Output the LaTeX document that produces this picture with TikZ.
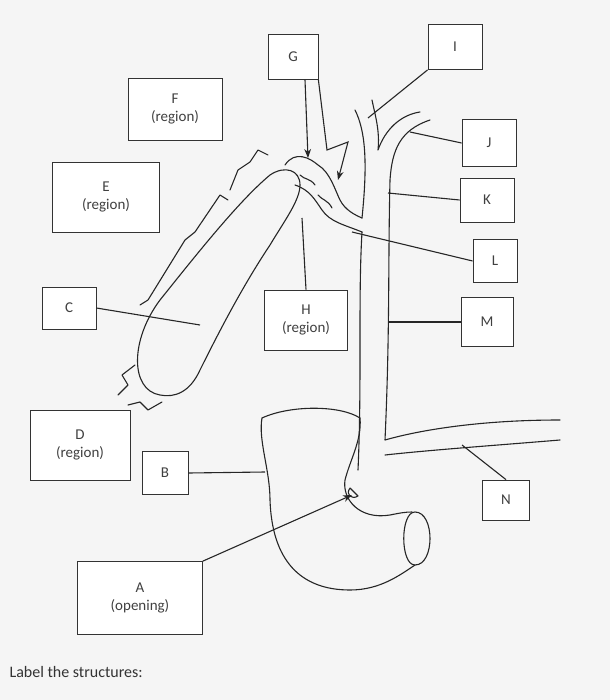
\documentclass[tikz,border=0pt]{standalone}
\usepackage{fontspec}
\setmainfont{Carlito}
\usetikzlibrary{arrows.meta}
\begin{document}
\begin{tikzpicture}[x=1pt,y=-1pt,
  lbl/.style={draw=black!80,line width=0.8pt,fill=white,inner sep=0pt,font=\fontsize{15}{18}\selectfont,align=center,text=black!75},
  ink/.style={line width=1.1pt,black!85,line cap=round,line join=round},
  ptr/.style={line width=1.1pt,black!85}]
\fill[black!4] (0,0) rectangle (610,700);
\useasboundingbox (0,0) rectangle (610,700);
% gallbladder
\draw[ink] (160,395) .. controls (130,390) and (130,340) .. (160,300)
  .. controls (200,250) and (240,200) .. (270,175)
  .. controls (285,165) and (300,170) .. (300,185)
  .. controls (300,200) and (285,220) .. (270,245)
  .. controls (240,290) and (215,340) .. (200,370)
  .. controls (190,392) and (175,398) .. (160,395) -- cycle;
% cystic duct
\draw[ink] (285,165) .. controls (295,150) and (310,158) .. (318,165) .. controls (330,172) and (335,190) .. (340,200)
  .. controls (345,210) and (355,215) .. (362,218);
\draw[ink] (295,185) .. controls (310,190) and (315,200) .. (322,210) .. controls (330,222) and (345,225) .. (362,232);
\draw[ink] (300,175) .. controls (305,180) and (310,178) .. (315,185) (318,195) .. controls (322,200) and (328,200) .. (332,208);
% ducts
\draw[ink] (355,110) .. controls (365,130) and (368,160) .. (362,218);
\draw[ink] (362,232) .. controls (358,300) and (362,380) .. (358,470);
\draw[ink] (430,120) .. controls (400,130) and (392,150) .. (390,180) .. controls (388,260) and (390,330) .. (385,440)
  .. controls (420,430) and (480,420) .. (560,420);
\draw[ink] (372,100) .. controls (375,115) and (380,130) .. (378,150) .. controls (385,130) and (400,115) .. (420,112);
\draw[ink] (385,455) .. controls (430,450) and (500,445) .. (560,440);
% duodenum
\draw[ink] (262,418) .. controls (290,405) and (340,405) .. (360,418);
\draw[ink] (262,418) .. controls (258,440) and (270,470) .. (270,500) .. controls (272,560) and (300,590) .. (350,590)
  .. controls (380,590) and (400,575) .. (415,565);
\draw[ink] (360,418) .. controls (362,440) and (350,460) .. (345,480) .. controls (342,500) and (360,520) .. (390,515) .. controls (400,513) and (405,512) .. (412,512);
\draw[ink] (415,512) .. controls (435,512) and (435,565) .. (415,565) .. controls (400,565) and (400,512) .. (415,512);
\draw[ink] (350,488) .. controls (345,495) and (352,500) .. (358,496) -- (350,488);
% region brackets
\draw[ink] (140,305) -- (148,300) -- (185,240) -- (195,232) -- (220,195) -- (228,200);
\draw[ink] (230,190) -- (238,170) -- (250,162) -- (258,150) -- (268,155);
\draw[ink] (118,395) -- (128,385) -- (122,375) -- (135,365) (128,405) -- (140,402) -- (148,410) -- (162,402);
% labels
\node[lbl,minimum width=50,minimum height=45] (G) at (293,57) {G};
\node[lbl,minimum width=54,minimum height=45] (I) at (455,47) {I};
\node[lbl,minimum width=94,minimum height=62] (F) at (175,109) {F\\(region)};
\node[lbl,minimum width=107,minimum height=70] (E) at (106,197) {E\\(region)};
\node[lbl,minimum width=54,minimum height=47] (J) at (489,143) {J};
\node[lbl,minimum width=54,minimum height=44] (K) at (487,200) {K};
\node[lbl,minimum width=44,minimum height=43] (L) at (495,261) {L};
\node[lbl,minimum width=54,minimum height=42] (C) at (69,308) {C};
\node[lbl,minimum width=83,minimum height=60] (H) at (306,320) {H\\(region)};
\node[lbl,minimum width=52,minimum height=49] (M) at (487,322) {M};
\node[lbl,minimum width=100,minimum height=70] (D) at (80,445) {D\\(region)};
\node[lbl,minimum width=46,minimum height=43] (B) at (165,473) {B};
\node[lbl,minimum width=47,minimum height=40] (N) at (506,500) {N};
\node[lbl,minimum width=125,minimum height=73] (A) at (140,598) {A\\(opening)};
\node[anchor=west,font=\fontsize{16}{18}\selectfont,text=black!80] (T) at (6,672) {Label the structures:};
% pointers
\coordinate (g1) at (308,158); \coordinate (g2) at (338,180);
\draw[ptr,-{Stealth[length=9pt]}] (G.south) ++(12,0) -- (g1);
\draw[ptr,-{Stealth[length=9pt]}] (G.south east) -- (327,150) -- (348,142) -- (g2);
\draw[ptr] (I.south west) -- (368,118);
\draw[ptr] (J.west) -- (410,132);
\draw[ptr] (K.west) -- (388,193);
\draw[ptr] (L.west) -- (352,232);
\draw[ptr] (C.east) -- (200,325);
\draw[ptr] (H.north) -- (302,218);
\draw[ptr] (M.west) -- (388,322);
\draw[ptr] (B.east) -- (265,472);
\draw[ptr] (N.north) -- (462,445);
\draw[ptr,-{Stealth[length=9pt]}] (A.north east) -- (352,495);
\end{tikzpicture}
\end{document}
